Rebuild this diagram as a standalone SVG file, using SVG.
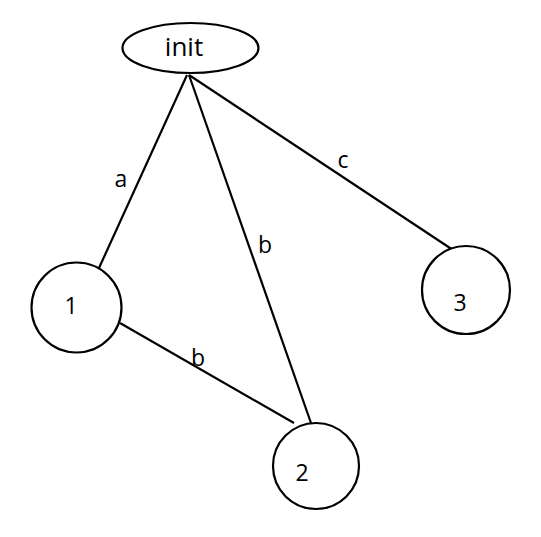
<svg xmlns="http://www.w3.org/2000/svg" width="541" height="537" viewBox="0 0 541 537">
<style>
.n{fill:#fff;stroke:#000;stroke-width:2.2}
.e{stroke:#000;stroke-width:2.2;fill:none}
text{font-family:"Open Sans","Noto Sans","DejaVu Sans",sans-serif;font-size:23px;fill:#000;text-anchor:middle;dominant-baseline:central}
</style>
<rect width="541" height="537" fill="#fff"/>
<g id="edges">
<line class="e" x1="187" y1="75" x2="99" y2="268"/>
<line class="e" x1="189" y1="75" x2="311" y2="423"/>
<line class="e" x1="189" y1="75" x2="453" y2="250"/>
<line class="e" x1="120" y1="323" x2="294" y2="423"/>
<text x="121" y="178">a</text>
<text x="265" y="244">b</text>
<text x="343" y="159">c</text>
<text x="198" y="357">b</text>
</g>
<g id="init">
<ellipse class="n" cx="190.5" cy="48" rx="68" ry="25"/>
<text x="184" y="46" style="font-size:26px">init</text>
</g>
<g id="n1">
<circle class="n" cx="76.5" cy="307.5" r="45"/>
<text x="71" y="305">1</text>
</g>
<g id="n2">
<circle class="n" cx="316" cy="466" r="43"/>
<text x="302" y="472">2</text>
</g>
<g id="n3">
<circle class="n" cx="466" cy="290" r="44"/>
<text x="460" y="302">3</text>
</g>
</svg>
